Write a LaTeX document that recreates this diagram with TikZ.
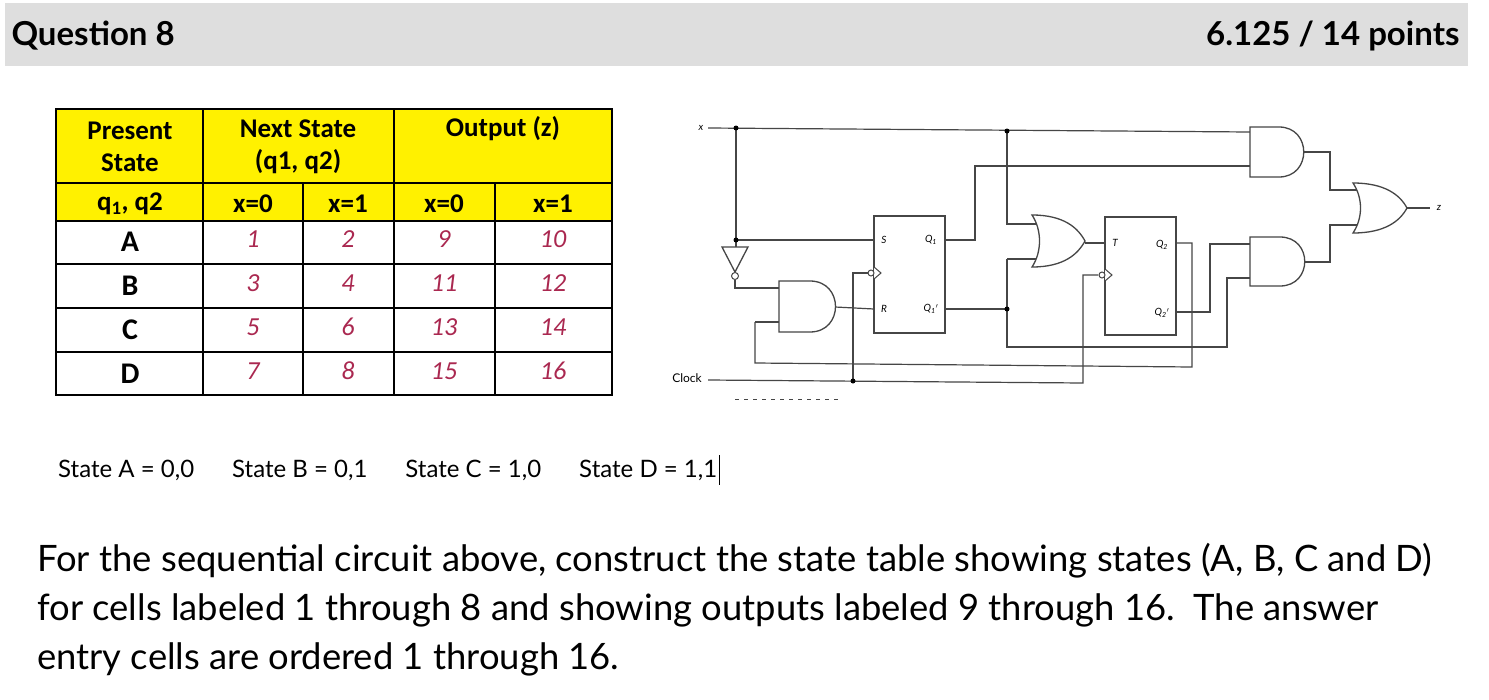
\documentclass[tikz,border=0pt]{standalone}
\usepackage{fontspec}
\setmainfont{Lato}
\newfontfamily\tabfont{Carlito}
\definecolor{hdrgray}{RGB}{222,222,222}
\definecolor{tyellow}{RGB}{255,241,0}
\definecolor{numred}{RGB}{170,40,80}
\definecolor{wire}{RGB}{70,70,70}
\begin{document}
\begin{tikzpicture}[x=1pt,y=-1pt,
  wr/.style={draw=wire,line width=1.2pt},
  gate/.style={draw=wire,line width=1.3pt,fill=white},
  dot/.style={circle,fill=black,inner sep=0pt,minimum size=5pt},
  num/.style={font=\tabfont\itshape\fontsize{26}{26}\selectfont,text=numred},
  hd/.style={font=\tabfont\bfseries\fontsize{27}{32}\selectfont,align=center},
  lbl/.style={font=\itshape\fontsize{10}{10}\selectfont,inner sep=1pt}]
\useasboundingbox (0,0) rectangle (1489,699);
\fill[white] (0,0) rectangle (1489,699);
% header
\fill[hdrgray] (5,3) rectangle (1468,66);
\node[anchor=west,font=\bfseries\fontsize{33}{34}\selectfont] (q8) at (8,36) {Question 8};
\node[anchor=east,font=\bfseries\fontsize{33}{34}\selectfont] (pts) at (1463,36) {6.125 / 14 points};
% table
\fill[tyellow] (56,109) rectangle (612,221);
\draw[line width=1.5pt] (56,109) rectangle (612,395);
\foreach \y in {183,221,264,308,352} \draw[line width=1.3pt] (56,\y) -- (612,\y);
\draw[line width=1.3pt] (203,109) -- (203,395) (394,109) -- (394,395);
\draw[line width=1.3pt] (303,183) -- (303,395) (495,183) -- (495,395);
\node[hd] (h1) at (130,147) {Present\\State};
\node[hd] (h2) at (298,147) {Next State\\(q1, q2)};
\node[hd,anchor=north] (h3) at (503,113) {Output (z)};
\node[hd] (s0) at (130,204) {q\textsubscript{1}, q2};
\node[hd] (s1) at (253,204) {x=0};
\node[hd] (s2) at (348,204) {x=1};
\node[hd] (s3) at (444,204) {x=0};
\node[hd] (s4) at (553,204) {x=1};
\foreach \r/\y/\a/\b/\c/\d in {A/242/1/2/9/10,B/286/3/4/11/12,C/330/5/6/13/14,D/374/7/8/15/16}{
  \node[font=\tabfont\bfseries\fontsize{30}{30}\selectfont] (r\r) at (130,\y) {\r};
  \node[num] (n\a) at (253,\y-3) {\a};
  \node[num] (n\b) at (348,\y-3) {\b};
  \node[num] (n\c) at (444,\y-3) {\c};
  \node[num] (n\d) at (553,\y-3) {\d};
}
% state line
\node[anchor=west,font=\fontsize{24}{24}\selectfont,inner sep=0pt] (st) at (58,470) {State A = 0,0\hspace{38pt}State B = 0,1\hspace{38pt}State C = 1,0\hspace{38pt}State D = 1,1};
\draw[line width=0.8pt] (st.east)++(2,-15) -- ++(0,30);
% paragraph
\node[anchor=north west,align=left,font=\fontsize{36.4}{49}\selectfont,inner sep=0pt] (para) at (37,543)
 {For the sequential circuit above, construct the state table showing states (A, B, C and D)\\
  for cells labeled 1 through 8 and showing outputs labeled 9 through 16.\ \ The answer\\
  entry cells are ordered 1 through 16.};
% ---------------- circuit ----------------
\node[lbl] (xl) at (701,128) {x};
\node[font=\fontsize{12}{12}\selectfont,inner sep=1pt] (clk) at (687,378) {Clock};
\node[lbl] (zl) at (1439,208) {z};
% wires
\draw[wr] (708,128) -- (1250,132);
\draw[wr] (736,128) -- (736,240) -- (874,240);
\draw[wr] (736,240) -- (736,247);
\draw[wr] (735,280) -- (735,288) -- (779,288);
\draw[wr] (755,322) -- (779,322);
\draw[wr] (755,322) -- (755,363) -- (1192,367) -- (1192,243) -- (1176,243);
\draw[wr] (835,307) -- (874,309);
\draw[wr] (708,380) -- (1083,383) -- (1083,275) -- (1098,275);
\draw[wr] (853,381) -- (853,273) -- (868,273);
\draw[wr] (945,240) -- (975,240) -- (975,166) -- (1250,166);
\draw[wr] (1007,131) -- (1007,224) -- (1036,224);
\draw[wr] (945,309) -- (1007,309);
\draw[wr] (1007,259) -- (1036,259);
\draw[wr] (1007,259) -- (1007,347) -- (1227,347) -- (1227,278) -- (1250,278);
\draw[wr] (1085,243) -- (1105,243);
\draw[wr] (1176,312) -- (1210,312) -- (1210,244) -- (1250,244);
\draw[wr] (1304,152) -- (1330,152) -- (1330,190) -- (1357,190);
\draw[wr] (1304,262) -- (1330,262) -- (1330,225) -- (1357,225);
\draw[wr] (1407,208) -- (1430,208);
\draw[wr,line width=0.8pt,dash pattern=on 4pt off 5pt] (735,399) -- (838,399);
% junctions
\node[dot] (j1) at (736,128) {};
\node[dot] (j2) at (736,240) {};
\node[dot] (j3) at (1007,131) {};
\node[dot] (j4) at (1007,309) {};
\node[dot] (j5) at (853,381) {};
% flip-flops
\draw[gate] (874,216) rectangle (945,333);
\draw[gate] (1105,217) rectangle (1176,335);
\node[lbl] (sl) at (884,240) {S};
\node[lbl] (rl) at (884,309) {R};
\node[lbl] (q1l) at (931,240) {Q\textsubscript{1}};
\node[lbl] (q1b) at (931,309) {Q\textsubscript{1}$'$};
\node[lbl] (tl) at (1115,243) {T};
\node[lbl] (q2l) at (1162,245) {Q\textsubscript{2}};
\node[lbl] (q2b) at (1162,313) {Q\textsubscript{2}$'$};
\draw[gate,line width=1pt] (874,267) -- (881,273) -- (874,279);
\draw[gate,line width=1pt] (871,273) circle (3);
\draw[gate,line width=1pt] (1105,269) -- (1112,275) -- (1105,281);
\draw[gate,line width=1pt] (1102,275) circle (3);
% inverter
\draw[gate] (722,247) -- (748,247) -- (735,272) -- cycle;
\draw[gate,line width=1pt] (735,276) circle (3.5);
% AND gates
\draw[gate] (779,281) -- (810,281) .. controls (844,281) and (844,332) .. (810,332) -- (779,332) -- cycle;
\draw[gate] (1250,127) -- (1279,127) .. controls (1312,127) and (1312,177) .. (1279,177) -- (1250,177) -- cycle;
\draw[gate] (1250,237) -- (1280,237) .. controls (1313,237) and (1313,286) .. (1280,286) -- (1250,286) -- cycle;
% OR gates
\draw[gate] (1353,183) .. controls (1385,183) and (1400,195) .. (1407,208)
  .. controls (1400,221) and (1385,233) .. (1353,233)
  .. controls (1363,218) and (1363,198) .. (1353,183) -- cycle;
\draw[gate] (1032,215) .. controls (1064,215) and (1078,228) .. (1085,241)
  .. controls (1078,254) and (1064,267) .. (1032,267)
  .. controls (1042,252) and (1042,230) .. (1032,215) -- cycle;
\end{tikzpicture}
\end{document}
